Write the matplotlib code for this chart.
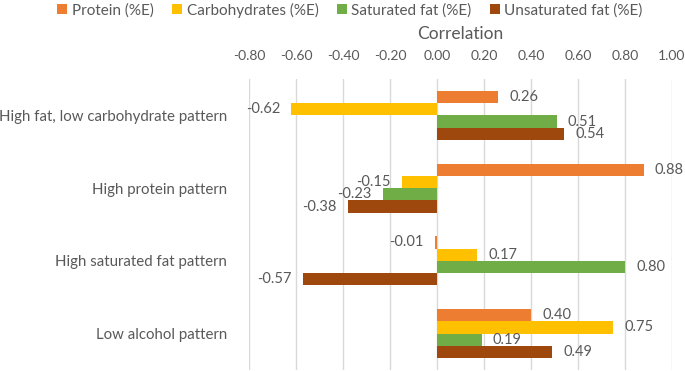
import matplotlib
matplotlib.use("Agg")
import matplotlib.pyplot as plt
import numpy as np

plt.rcParams['font.family'] = ['Lato', 'DejaVu Sans']

categories = ["High fat, low carbohydrate pattern", "High protein pattern",
              "High saturated fat pattern", "Low alcohol pattern"]
series_names = ["Protein (%E)", "Carbohydrates (%E)", "Saturated fat (%E)", "Unsaturated fat (%E)"]
protein = [0.26, 0.88, -0.01, 0.40]
carbs = [-0.62, -0.15, 0.17, 0.75]
satfat = [0.51, -0.23, 0.80, 0.19]
unsatfat = [0.54, -0.38, -0.57, 0.49]
xticks = [-0.80, -0.60, -0.40, -0.20, 0.00, 0.20, 0.40, 0.60, 0.80, 1.00]

colors = ["#ED7D31", "#FFC000", "#70AD47", "#9E480E"]
txt = "#595959"

fig = plt.figure(figsize=(6.85, 3.71), dpi=100)
ax = fig.add_axes([249/685, 1 - 370/371, (672-249)/685, (370-79)/371])

y = np.arange(len(categories))
h = 0.169
all_series = [protein, carbs, satfat, unsatfat]
for k, (vals, name, c) in enumerate(zip(all_series, series_names, colors)):
    off = (k - 1.5) * h
    bars = ax.barh(y + off, vals, height=h, color=c, label=name, zorder=3)
    ax.bar_label(bars, labels=[f"{v:.2f}" for v in vals], padding=8,
                 fontsize=10.5, color=txt)

ax.set_ylim(len(categories) - 0.5, -0.5)
ax.set_xlim(-0.8, 1.0)
ax.set_xticks(xticks)
ax.set_xticklabels([f"{t:.2f}" for t in xticks])
ax.xaxis.tick_top()
ax.xaxis.set_label_position("top")
ax.set_xlabel("Correlation", fontsize=12.5, color=txt, labelpad=8.5)
ax.tick_params(axis="x", length=0, labelsize=10, labelcolor=txt, pad=12)
ax.set_yticks(y)
ax.set_yticklabels(categories)
ax.tick_params(axis="y", length=0, labelsize=10.8, labelcolor=txt, pad=16)
for s in ax.spines.values():
    s.set_visible(False)
ax.grid(axis="x", color="#D9D9D9", linewidth=1, zorder=0)

fig.legend(loc="center", bbox_to_anchor=(350/685, 1 - 10/371), ncol=4, frameon=False,
           fontsize=11, labelcolor=txt, handlelength=0.65, handleheight=0.65,
           handletextpad=0.3, columnspacing=1.2, borderaxespad=0)

fig.savefig("out.png", dpi=100)
